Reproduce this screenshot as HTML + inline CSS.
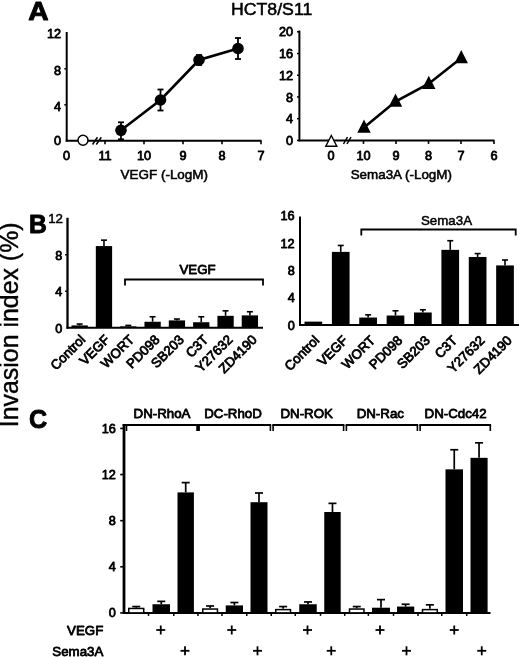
<!DOCTYPE html>
<html><head><meta charset="utf-8"><title>HCT8/S11 invasion index</title>
<style>
html,body{margin:0;padding:0;background:#fff;}
svg{display:block;font-family:'Liberation Sans', sans-serif;fill:#000;}
</style></head>
<body>
<svg width="520" height="657" viewBox="0 0 520 657">
<rect x="0" y="0" width="520" height="657" fill="#fff" stroke="none"/>
<text transform="translate(28.3,20.1) scale(1.07,1)" font-size="26.4" font-weight="bold" stroke="#000" stroke-width="0.9" stroke-linejoin="round">A</text>
<text transform="translate(29.1,233.1) scale(0.94,1)" font-size="26.2" font-weight="bold" stroke="#000" stroke-width="0.9" stroke-linejoin="round">B</text>
<text transform=" translate(28.9,427.9) scale(0.96,1)" font-size="26.2" font-weight="bold" stroke="#000" stroke-width="0.9" stroke-linejoin="round">C</text>
<text x="231" y="14.6" font-size="16.8" textLength="81.3" lengthAdjust="spacingAndGlyphs" stroke="#000" stroke-width="0.5">HCT8/S11</text>
<text transform="translate(18.0,427.2) rotate(-90)" font-size="24.9" stroke="#000" stroke-width="0.4">Invasion index (%)</text>
<line x1="66.7" y1="32" x2="66.7" y2="141.5" stroke="#000" stroke-width="2" />
<line x1="65.7" y1="140.8" x2="261.5" y2="140.8" stroke="#000" stroke-width="2" />
<text x="61" y="145.3" font-size="12.7" text-anchor="end" font-weight="normal" stroke="#000" stroke-width="0.8" stroke-linejoin="round" >0</text>
<line x1="64.3" y1="104.8" x2="66.7" y2="104.8" stroke="#000" stroke-width="1.5" />
<text x="61" y="110.7" font-size="12.7" text-anchor="end" font-weight="normal" stroke="#000" stroke-width="0.8" stroke-linejoin="round" >4</text>
<line x1="64.3" y1="68.8" x2="66.7" y2="68.8" stroke="#000" stroke-width="1.5" />
<text x="61" y="75.2" font-size="12.7" text-anchor="end" font-weight="normal" stroke="#000" stroke-width="0.8" stroke-linejoin="round" >8</text>
<text x="61" y="38.0" font-size="12.7" text-anchor="end" font-weight="normal" stroke="#000" stroke-width="0.8" stroke-linejoin="round" >12</text>
<text x="66.5" y="160.3" font-size="12.7" text-anchor="middle" font-weight="normal" stroke="#000" stroke-width="0.8" stroke-linejoin="round" >0</text>
<line x1="105" y1="140.8" x2="105" y2="144.3" stroke="#000" stroke-width="1.6" />
<text x="105" y="160.3" font-size="12.7" text-anchor="middle" font-weight="normal" stroke="#000" stroke-width="0.8" stroke-linejoin="round" >11</text>
<line x1="144" y1="140.8" x2="144" y2="144.3" stroke="#000" stroke-width="1.6" />
<text x="144" y="160.3" font-size="12.7" text-anchor="middle" font-weight="normal" stroke="#000" stroke-width="0.8" stroke-linejoin="round" >10</text>
<line x1="183" y1="140.8" x2="183" y2="144.3" stroke="#000" stroke-width="1.6" />
<text x="183" y="160.3" font-size="12.7" text-anchor="middle" font-weight="normal" stroke="#000" stroke-width="0.8" stroke-linejoin="round" >9</text>
<line x1="222" y1="140.8" x2="222" y2="144.3" stroke="#000" stroke-width="1.6" />
<text x="222" y="160.3" font-size="12.7" text-anchor="middle" font-weight="normal" stroke="#000" stroke-width="0.8" stroke-linejoin="round" >8</text>
<line x1="261" y1="140.8" x2="261" y2="144.3" stroke="#000" stroke-width="1.6" />
<text x="261" y="160.3" font-size="12.7" text-anchor="middle" font-weight="normal" stroke="#000" stroke-width="0.8" stroke-linejoin="round" >7</text>
<text x="120.6" y="179.3" font-size="13.4" textLength="87.4" lengthAdjust="spacingAndGlyphs" stroke="#000" stroke-width="0.55">VEGF (-LogM)</text>
<line x1="92.5" y1="144.5" x2="97.5" y2="137.3" stroke="#000" stroke-width="1.5" />
<line x1="96.3" y1="144.5" x2="101.3" y2="137.3" stroke="#000" stroke-width="1.5" />
<line x1="121" y1="130.3" x2="121" y2="122.3" stroke="#000" stroke-width="1.8" />
<line x1="118.0" y1="122.3" x2="124.0" y2="122.3" stroke="#000" stroke-width="1.8" />
<line x1="121" y1="130.3" x2="121" y2="139.3" stroke="#000" stroke-width="1.8" />
<line x1="118.0" y1="139.3" x2="124.0" y2="139.3" stroke="#000" stroke-width="1.8" />
<line x1="160.5" y1="100" x2="160.5" y2="89.5" stroke="#000" stroke-width="1.8" />
<line x1="157.5" y1="89.5" x2="163.5" y2="89.5" stroke="#000" stroke-width="1.8" />
<line x1="160.5" y1="100" x2="160.5" y2="110.5" stroke="#000" stroke-width="1.8" />
<line x1="157.5" y1="110.5" x2="163.5" y2="110.5" stroke="#000" stroke-width="1.8" />
<line x1="199" y1="60" x2="199" y2="55" stroke="#000" stroke-width="1.8" />
<line x1="196.0" y1="55" x2="202.0" y2="55" stroke="#000" stroke-width="1.8" />
<line x1="199" y1="60" x2="199" y2="65" stroke="#000" stroke-width="1.8" />
<line x1="196.0" y1="65" x2="202.0" y2="65" stroke="#000" stroke-width="1.8" />
<line x1="238" y1="48.5" x2="238" y2="38.0" stroke="#000" stroke-width="1.8" />
<line x1="235.0" y1="38.0" x2="241.0" y2="38.0" stroke="#000" stroke-width="1.8" />
<line x1="238" y1="48.5" x2="238" y2="59.0" stroke="#000" stroke-width="1.8" />
<line x1="235.0" y1="59.0" x2="241.0" y2="59.0" stroke="#000" stroke-width="1.8" />
<polyline fill="none" stroke="#000" stroke-width="2.6" points="121,130.3 160.5,100 199,60 238,48.5"/>
<circle cx="121" cy="130.3" r="5.8" fill="#000"/>
<circle cx="160.5" cy="100" r="5.8" fill="#000"/>
<circle cx="199" cy="60" r="5.8" fill="#000"/>
<circle cx="238" cy="48.5" r="5.8" fill="#000"/>
<circle cx="83" cy="140.3" r="5" fill="#fff" stroke="#000" stroke-width="1.5"/>
<line x1="299.4" y1="30.5" x2="299.4" y2="141.3" stroke="#000" stroke-width="2" />
<line x1="298.4" y1="140.4" x2="494.5" y2="140.4" stroke="#000" stroke-width="2" />
<line x1="297.0" y1="140.4" x2="299.4" y2="140.4" stroke="#000" stroke-width="1.5" />
<text x="293.0" y="145.0" font-size="12.7" text-anchor="end" font-weight="normal" stroke="#000" stroke-width="0.8" stroke-linejoin="round" >0</text>
<line x1="297.0" y1="118.68" x2="299.4" y2="118.68" stroke="#000" stroke-width="1.5" />
<text x="293.0" y="123.28" font-size="12.7" text-anchor="end" font-weight="normal" stroke="#000" stroke-width="0.8" stroke-linejoin="round" >4</text>
<line x1="297.0" y1="96.96" x2="299.4" y2="96.96" stroke="#000" stroke-width="1.5" />
<text x="293.0" y="101.56" font-size="12.7" text-anchor="end" font-weight="normal" stroke="#000" stroke-width="0.8" stroke-linejoin="round" >8</text>
<line x1="297.0" y1="75.24" x2="299.4" y2="75.24" stroke="#000" stroke-width="1.5" />
<text x="293.0" y="79.84" font-size="12.7" text-anchor="end" font-weight="normal" stroke="#000" stroke-width="0.8" stroke-linejoin="round" >12</text>
<line x1="297.0" y1="53.52" x2="299.4" y2="53.52" stroke="#000" stroke-width="1.5" />
<text x="293.0" y="58.12" font-size="12.7" text-anchor="end" font-weight="normal" stroke="#000" stroke-width="0.8" stroke-linejoin="round" >16</text>
<line x1="297.0" y1="31.8" x2="299.4" y2="31.8" stroke="#000" stroke-width="1.5" />
<text x="293.0" y="36.4" font-size="12.7" text-anchor="end" font-weight="normal" stroke="#000" stroke-width="0.8" stroke-linejoin="round" >20</text>
<text x="331" y="160.3" font-size="12.7" text-anchor="middle" font-weight="normal" stroke="#000" stroke-width="0.8" stroke-linejoin="round" >0</text>
<line x1="363.5" y1="140.4" x2="363.5" y2="143.9" stroke="#000" stroke-width="1.6" />
<text x="363.5" y="160.3" font-size="12.7" text-anchor="middle" font-weight="normal" stroke="#000" stroke-width="0.8" stroke-linejoin="round" >10</text>
<line x1="396" y1="140.4" x2="396" y2="143.9" stroke="#000" stroke-width="1.6" />
<text x="396" y="160.3" font-size="12.7" text-anchor="middle" font-weight="normal" stroke="#000" stroke-width="0.8" stroke-linejoin="round" >9</text>
<line x1="428.5" y1="140.4" x2="428.5" y2="143.9" stroke="#000" stroke-width="1.6" />
<text x="428.5" y="160.3" font-size="12.7" text-anchor="middle" font-weight="normal" stroke="#000" stroke-width="0.8" stroke-linejoin="round" >8</text>
<line x1="461" y1="140.4" x2="461" y2="143.9" stroke="#000" stroke-width="1.6" />
<text x="461" y="160.3" font-size="12.7" text-anchor="middle" font-weight="normal" stroke="#000" stroke-width="0.8" stroke-linejoin="round" >7</text>
<line x1="494" y1="140.4" x2="494" y2="143.9" stroke="#000" stroke-width="1.6" />
<text x="494" y="160.3" font-size="12.7" text-anchor="middle" font-weight="normal" stroke="#000" stroke-width="0.8" stroke-linejoin="round" >6</text>
<text x="350.7" y="179.3" font-size="13.4" textLength="101.2" lengthAdjust="spacingAndGlyphs" stroke="#000" stroke-width="0.55">Sema3A (-LogM)</text>
<line x1="343.5" y1="144" x2="347.5" y2="137" stroke="#000" stroke-width="1.5" />
<line x1="347" y1="144" x2="351" y2="137" stroke="#000" stroke-width="1.5" />
<polyline fill="none" stroke="#000" stroke-width="2.6" points="364,127.5 395.5,101.5 428.75,83.75 461.25,58"/>
<polygon points="364,119.5 357.3,132.8 370.7,132.8" fill="#000"/>
<polygon points="395.5,93.5 388.8,106.8 402.2,106.8" fill="#000"/>
<polygon points="428.75,75.75 422.05,89.05 435.45,89.05" fill="#000"/>
<polygon points="461.25,50 454.55,63.3 467.95,63.3" fill="#000"/>
<polygon points="331.3,135.5 325.8,146.3 336.8,146.3" fill="#fff" stroke="#000" stroke-width="1.4"/>
<line x1="67.5" y1="217.8" x2="67.5" y2="328.7" stroke="#000" stroke-width="2.3" />
<line x1="66.5" y1="327.7" x2="263" y2="327.7" stroke="#000" stroke-width="2" />
<text x="62.2" y="332.55" font-size="12.7" text-anchor="end" font-weight="normal" stroke="#000" stroke-width="0.8" stroke-linejoin="round" >0</text>
<line x1="65.1" y1="291.22" x2="67.5" y2="291.22" stroke="#000" stroke-width="1.5" />
<text x="62.2" y="296.35" font-size="12.7" text-anchor="end" font-weight="normal" stroke="#000" stroke-width="0.8" stroke-linejoin="round" >4</text>
<line x1="65.1" y1="254.74" x2="67.5" y2="254.74" stroke="#000" stroke-width="1.5" />
<text x="62.2" y="260.15" font-size="12.7" text-anchor="end" font-weight="normal" stroke="#000" stroke-width="0.8" stroke-linejoin="round" >8</text>
<text x="63" y="223.2" font-size="13.3" text-anchor="end" stroke="#000" stroke-width="0.5">12</text>
<line x1="79.65" y1="325.42" x2="79.65" y2="324.05" stroke="#000" stroke-width="1.6" />
<line x1="76.65" y1="324.05" x2="82.65" y2="324.05" stroke="#000" stroke-width="1.6" />
<rect x="71.50" y="325.42" width="16.30" height="2.28" fill="#000"/>
<text transform="translate(86.2,340.5) rotate(-45)" font-size="13.3" text-anchor="end" stroke="#000" stroke-width="0.8">Control</text>
<line x1="103.97" y1="246.08" x2="103.97" y2="240.15" stroke="#000" stroke-width="1.6" />
<line x1="100.97" y1="240.15" x2="106.97" y2="240.15" stroke="#000" stroke-width="1.6" />
<rect x="95.82" y="246.08" width="16.30" height="81.62" fill="#000"/>
<text transform="translate(110.6,340.5) rotate(-45)" font-size="13.3" text-anchor="end" stroke="#000" stroke-width="0.8">VEGF</text>
<line x1="128.29" y1="326.33" x2="128.29" y2="325.42" stroke="#000" stroke-width="1.6" />
<line x1="125.29" y1="325.42" x2="131.29" y2="325.42" stroke="#000" stroke-width="1.6" />
<rect x="120.14" y="326.33" width="16.30" height="1.37" fill="#000"/>
<text transform="translate(134.9,340.5) rotate(-45)" font-size="13.3" text-anchor="end" stroke="#000" stroke-width="0.8">WORT</text>
<line x1="152.61" y1="321.77" x2="152.61" y2="316.76" stroke="#000" stroke-width="1.6" />
<line x1="149.61" y1="316.76" x2="155.61" y2="316.76" stroke="#000" stroke-width="1.6" />
<rect x="144.46" y="321.77" width="16.30" height="5.93" fill="#000"/>
<text transform="translate(160.4,340.5) rotate(-45)" font-size="13.3" text-anchor="end" stroke="#000" stroke-width="0.8">PD098</text>
<line x1="176.93" y1="320.4" x2="176.93" y2="319.04" stroke="#000" stroke-width="1.6" />
<line x1="173.93" y1="319.04" x2="179.93" y2="319.04" stroke="#000" stroke-width="1.6" />
<rect x="168.78" y="320.40" width="16.30" height="7.30" fill="#000"/>
<text transform="translate(184.7,340.5) rotate(-45)" font-size="13.3" text-anchor="end" stroke="#000" stroke-width="0.8">SB203</text>
<line x1="201.25" y1="322.23" x2="201.25" y2="316.76" stroke="#000" stroke-width="1.6" />
<line x1="198.25" y1="316.76" x2="204.25" y2="316.76" stroke="#000" stroke-width="1.6" />
<rect x="193.10" y="322.23" width="16.30" height="5.47" fill="#000"/>
<text transform="translate(209.1,340.5) rotate(-45)" font-size="13.3" text-anchor="end" stroke="#000" stroke-width="0.8">C3T</text>
<line x1="225.57" y1="315.84" x2="225.57" y2="310.83" stroke="#000" stroke-width="1.6" />
<line x1="222.57" y1="310.83" x2="228.57" y2="310.83" stroke="#000" stroke-width="1.6" />
<rect x="217.42" y="315.84" width="16.30" height="11.86" fill="#000"/>
<text transform="translate(233.4,340.5) rotate(-45)" font-size="13.3" text-anchor="end" stroke="#000" stroke-width="0.8">Y27632</text>
<line x1="249.89" y1="315.39" x2="249.89" y2="311.74" stroke="#000" stroke-width="1.6" />
<line x1="246.89" y1="311.74" x2="252.89" y2="311.74" stroke="#000" stroke-width="1.6" />
<rect x="241.74" y="315.39" width="16.30" height="12.31" fill="#000"/>
<text transform="translate(257.7,340.5) rotate(-45)" font-size="13.3" text-anchor="end" stroke="#000" stroke-width="0.8">ZD4190</text>
<polyline fill="none" stroke="#000" stroke-width="1.8" points="125,285.5 125,279.5 263,279.5 263,285.5"/>
<text x="197.5" y="273.7" font-size="13.3" text-anchor="middle" font-weight="normal" stroke="#000" stroke-width="0.8" stroke-linejoin="round" >VEGF</text>
<line x1="300" y1="216.5" x2="300" y2="326" stroke="#000" stroke-width="2" />
<line x1="299" y1="325" x2="519" y2="325" stroke="#000" stroke-width="2" />
<text x="294.7" y="329.85" font-size="12.7" text-anchor="end" font-weight="normal" stroke="#000" stroke-width="0.8" stroke-linejoin="round" >0</text>
<text x="294.7" y="302.49" font-size="12.7" text-anchor="end" font-weight="normal" stroke="#000" stroke-width="0.8" stroke-linejoin="round" >4</text>
<text x="294.7" y="275.13" font-size="12.7" text-anchor="end" font-weight="normal" stroke="#000" stroke-width="0.8" stroke-linejoin="round" >8</text>
<text x="294.7" y="247.77" font-size="12.7" text-anchor="end" font-weight="normal" stroke="#000" stroke-width="0.8" stroke-linejoin="round" >12</text>
<text x="294.7" y="220.41" font-size="12.7" text-anchor="end" font-weight="normal" stroke="#000" stroke-width="0.8" stroke-linejoin="round" >16</text>
<rect x="304.50" y="321.62" width="17.70" height="3.38" fill="#000"/>
<text transform="translate(320.2,341.2) rotate(-45)" font-size="13.3" text-anchor="end" stroke="#000" stroke-width="0.8">Control</text>
<line x1="340.73" y1="251.88" x2="340.73" y2="245.45" stroke="#000" stroke-width="1.6" />
<line x1="337.73" y1="245.45" x2="343.73" y2="245.45" stroke="#000" stroke-width="1.6" />
<rect x="331.88" y="251.88" width="17.70" height="73.12" fill="#000"/>
<text transform="translate(348.5,341.2) rotate(-45)" font-size="13.3" text-anchor="end" stroke="#000" stroke-width="0.8">VEGF</text>
<line x1="368.11" y1="317.55" x2="368.11" y2="314.85" stroke="#000" stroke-width="1.6" />
<line x1="365.11" y1="314.85" x2="371.11" y2="314.85" stroke="#000" stroke-width="1.6" />
<rect x="359.26" y="317.55" width="17.70" height="7.45" fill="#000"/>
<text transform="translate(375.9,341.2) rotate(-45)" font-size="13.3" text-anchor="end" stroke="#000" stroke-width="0.8">WORT</text>
<line x1="395.49" y1="315.52" x2="395.49" y2="310.78" stroke="#000" stroke-width="1.6" />
<line x1="392.49" y1="310.78" x2="398.49" y2="310.78" stroke="#000" stroke-width="1.6" />
<rect x="386.64" y="315.52" width="17.70" height="9.48" fill="#000"/>
<text transform="translate(403.3,341.2) rotate(-45)" font-size="13.3" text-anchor="end" stroke="#000" stroke-width="0.8">PD098</text>
<line x1="422.87" y1="312.48" x2="422.87" y2="309.77" stroke="#000" stroke-width="1.6" />
<line x1="419.87" y1="309.77" x2="425.87" y2="309.77" stroke="#000" stroke-width="1.6" />
<rect x="414.02" y="312.48" width="17.70" height="12.52" fill="#000"/>
<text transform="translate(430.7,341.2) rotate(-45)" font-size="13.3" text-anchor="end" stroke="#000" stroke-width="0.8">SB203</text>
<line x1="450.25" y1="249.85" x2="450.25" y2="240.71" stroke="#000" stroke-width="1.6" />
<line x1="447.25" y1="240.71" x2="453.25" y2="240.71" stroke="#000" stroke-width="1.6" />
<rect x="441.40" y="249.85" width="17.70" height="75.15" fill="#000"/>
<text transform="translate(458.1,341.2) rotate(-45)" font-size="13.3" text-anchor="end" stroke="#000" stroke-width="0.8">C3T</text>
<line x1="477.63" y1="256.96" x2="477.63" y2="253.58" stroke="#000" stroke-width="1.6" />
<line x1="474.63" y1="253.58" x2="480.63" y2="253.58" stroke="#000" stroke-width="1.6" />
<rect x="468.78" y="256.96" width="17.70" height="68.04" fill="#000"/>
<text transform="translate(485.4,341.2) rotate(-45)" font-size="13.3" text-anchor="end" stroke="#000" stroke-width="0.8">Y27632</text>
<line x1="505.01" y1="265.42" x2="505.01" y2="260.01" stroke="#000" stroke-width="1.6" />
<line x1="502.01" y1="260.01" x2="508.01" y2="260.01" stroke="#000" stroke-width="1.6" />
<rect x="496.16" y="265.42" width="17.70" height="59.58" fill="#000"/>
<text transform="translate(512.8,341.2) rotate(-45)" font-size="13.3" text-anchor="end" stroke="#000" stroke-width="0.8">ZD4190</text>
<polyline fill="none" stroke="#000" stroke-width="1.8" points="361.3,235.5 361.3,229.5 515.7,229.5 515.7,235.5"/>
<text x="446.5" y="224.5" font-size="13.3" text-anchor="middle" stroke="#000" stroke-width="0.5">Sema3A</text>
<line x1="124" y1="424.3" x2="124" y2="613.9" stroke="#000" stroke-width="2.8" />
<line x1="123" y1="612.9" x2="490.5" y2="612.9" stroke="#000" stroke-width="2" />
<line x1="120.2" y1="612.9" x2="124" y2="612.9" stroke="#000" stroke-width="1.6" />
<text x="115.8" y="617.1" font-size="12.7" text-anchor="end" font-weight="normal" stroke="#000" stroke-width="0.8" stroke-linejoin="round" >0</text>
<line x1="120.2" y1="566.78" x2="124" y2="566.78" stroke="#000" stroke-width="1.6" />
<text x="115.8" y="570.98" font-size="12.7" text-anchor="end" font-weight="normal" stroke="#000" stroke-width="0.8" stroke-linejoin="round" >4</text>
<line x1="120.2" y1="520.66" x2="124" y2="520.66" stroke="#000" stroke-width="1.6" />
<text x="115.8" y="524.86" font-size="12.7" text-anchor="end" font-weight="normal" stroke="#000" stroke-width="0.8" stroke-linejoin="round" >8</text>
<line x1="120.2" y1="474.54" x2="124" y2="474.54" stroke="#000" stroke-width="1.6" />
<text x="115.8" y="478.74" font-size="12.7" text-anchor="end" font-weight="normal" stroke="#000" stroke-width="0.8" stroke-linejoin="round" >12</text>
<line x1="120.2" y1="428.42" x2="124" y2="428.42" stroke="#000" stroke-width="1.6" />
<text x="115.8" y="432.62" font-size="12.7" text-anchor="end" font-weight="normal" stroke="#000" stroke-width="0.8" stroke-linejoin="round" >16</text>
<line x1="122.6" y1="425" x2="126.5" y2="425" stroke="#000" stroke-width="2.0" />
<line x1="125.7" y1="425" x2="198.1" y2="425" stroke="#000" stroke-width="2.0" />
<line x1="126.5" y1="425" x2="126.5" y2="431" stroke="#000" stroke-width="1.6" />
<line x1="197.3" y1="425" x2="197.3" y2="431" stroke="#000" stroke-width="1.6" />
<line x1="198.1" y1="425" x2="271.2" y2="425" stroke="#000" stroke-width="2.0" />
<line x1="198.9" y1="425" x2="198.9" y2="431" stroke="#000" stroke-width="1.6" />
<line x1="270.4" y1="425" x2="270.4" y2="431" stroke="#000" stroke-width="1.6" />
<line x1="272.3" y1="425" x2="344.4" y2="425" stroke="#000" stroke-width="2.0" />
<line x1="273.1" y1="425" x2="273.1" y2="431" stroke="#000" stroke-width="1.6" />
<line x1="343.6" y1="425" x2="343.6" y2="431" stroke="#000" stroke-width="1.6" />
<line x1="345.6" y1="425" x2="418.2" y2="425" stroke="#000" stroke-width="2.0" />
<line x1="346.4" y1="425" x2="346.4" y2="431" stroke="#000" stroke-width="1.6" />
<line x1="417.4" y1="425" x2="417.4" y2="431" stroke="#000" stroke-width="1.6" />
<line x1="419.3" y1="425" x2="491.1" y2="425" stroke="#000" stroke-width="2.0" />
<line x1="420.1" y1="425" x2="420.1" y2="431" stroke="#000" stroke-width="1.6" />
<line x1="490.3" y1="425" x2="490.3" y2="431" stroke="#000" stroke-width="1.6" />
<line x1="198.1" y1="424.2" x2="198.1" y2="431" stroke="#000" stroke-width="3.2" />
<text x="162" y="418.1" font-size="13.3" text-anchor="middle" font-weight="normal" stroke="#000" stroke-width="0.8" stroke-linejoin="round" >DN-RhoA</text>
<text x="233" y="418.1" font-size="13.3" text-anchor="middle" font-weight="normal" stroke="#000" stroke-width="0.8" stroke-linejoin="round" >DC-RhoD</text>
<text x="306.7" y="418.1" font-size="13.3" text-anchor="middle" font-weight="normal" stroke="#000" stroke-width="0.8" stroke-linejoin="round" >DN-ROK</text>
<text x="380.3" y="418.1" font-size="13.3" text-anchor="middle" font-weight="normal" stroke="#000" stroke-width="0.8" stroke-linejoin="round" >DN-Rac</text>
<text x="455.6" y="418.1" font-size="13.3" text-anchor="middle" font-weight="normal" stroke="#000" stroke-width="0.8" stroke-linejoin="round" >DN-Cdc42</text>
<line x1="136.25" y1="607.71" x2="136.25" y2="606.56" stroke="#000" stroke-width="1.7" />
<line x1="132.25" y1="606.56" x2="140.25" y2="606.56" stroke="#000" stroke-width="1.7" />
<rect x="128.75" y="608.46" width="15.00" height="4.44" fill="#fff" stroke="#000" stroke-width="1.5"/>
<line x1="148.5" y1="612.9" x2="148.5" y2="615.9" stroke="#000" stroke-width="1.5" />
<line x1="161.25" y1="604.25" x2="161.25" y2="601.37" stroke="#000" stroke-width="1.7" />
<line x1="157.25" y1="601.37" x2="165.25" y2="601.37" stroke="#000" stroke-width="1.7" />
<rect x="152.50" y="604.25" width="17.50" height="8.65" fill="#000"/>
<line x1="173.75" y1="612.9" x2="173.75" y2="615.9" stroke="#000" stroke-width="1.5" />
<line x1="185.7" y1="492.41" x2="185.7" y2="482.61" stroke="#000" stroke-width="1.7" />
<line x1="181.7" y1="482.61" x2="189.7" y2="482.61" stroke="#000" stroke-width="1.7" />
<rect x="177.50" y="492.41" width="16.40" height="120.49" fill="#000"/>
<line x1="197.95" y1="612.9" x2="197.95" y2="615.9" stroke="#000" stroke-width="1.5" />
<line x1="210.1" y1="608.29" x2="210.1" y2="605.98" stroke="#000" stroke-width="1.7" />
<line x1="206.1" y1="605.98" x2="214.1" y2="605.98" stroke="#000" stroke-width="1.7" />
<rect x="202.75" y="609.04" width="14.70" height="3.86" fill="#fff" stroke="#000" stroke-width="1.5"/>
<line x1="221.97" y1="612.9" x2="221.97" y2="615.9" stroke="#000" stroke-width="1.5" />
<line x1="234.38" y1="605.41" x2="234.38" y2="602.52" stroke="#000" stroke-width="1.7" />
<line x1="230.38" y1="602.52" x2="238.38" y2="602.52" stroke="#000" stroke-width="1.7" />
<rect x="225.75" y="605.41" width="17.25" height="7.49" fill="#000"/>
<line x1="246.75" y1="612.9" x2="246.75" y2="615.9" stroke="#000" stroke-width="1.5" />
<line x1="259.0" y1="502.21" x2="259.0" y2="492.99" stroke="#000" stroke-width="1.7" />
<line x1="255.0" y1="492.99" x2="263.0" y2="492.99" stroke="#000" stroke-width="1.7" />
<rect x="250.50" y="502.21" width="17.00" height="110.69" fill="#000"/>
<line x1="271.25" y1="612.9" x2="271.25" y2="615.9" stroke="#000" stroke-width="1.5" />
<line x1="283.12" y1="608.86" x2="283.12" y2="606.56" stroke="#000" stroke-width="1.7" />
<line x1="279.12" y1="606.56" x2="287.12" y2="606.56" stroke="#000" stroke-width="1.7" />
<rect x="275.75" y="609.61" width="14.75" height="3.29" fill="#fff" stroke="#000" stroke-width="1.5"/>
<line x1="295.25" y1="612.9" x2="295.25" y2="615.9" stroke="#000" stroke-width="1.5" />
<line x1="308.0" y1="604.25" x2="308.0" y2="601.95" stroke="#000" stroke-width="1.7" />
<line x1="304.0" y1="601.95" x2="312.0" y2="601.95" stroke="#000" stroke-width="1.7" />
<rect x="299.25" y="604.25" width="17.50" height="8.65" fill="#000"/>
<line x1="320.5" y1="612.9" x2="320.5" y2="615.9" stroke="#000" stroke-width="1.5" />
<line x1="332.48" y1="512.01" x2="332.48" y2="503.37" stroke="#000" stroke-width="1.7" />
<line x1="328.48" y1="503.37" x2="336.48" y2="503.37" stroke="#000" stroke-width="1.7" />
<rect x="324.25" y="512.01" width="16.45" height="100.89" fill="#000"/>
<line x1="344.73" y1="612.9" x2="344.73" y2="615.9" stroke="#000" stroke-width="1.5" />
<line x1="356.73" y1="608.29" x2="356.73" y2="606.56" stroke="#000" stroke-width="1.7" />
<line x1="352.73" y1="606.56" x2="360.73" y2="606.56" stroke="#000" stroke-width="1.7" />
<rect x="349.50" y="609.04" width="14.45" height="3.86" fill="#fff" stroke="#000" stroke-width="1.5"/>
<line x1="368.35" y1="612.9" x2="368.35" y2="615.9" stroke="#000" stroke-width="1.5" />
<line x1="381.0" y1="607.71" x2="381.0" y2="599.64" stroke="#000" stroke-width="1.7" />
<line x1="377.0" y1="599.64" x2="385.0" y2="599.64" stroke="#000" stroke-width="1.7" />
<rect x="372.00" y="607.71" width="18.00" height="5.19" fill="#000"/>
<line x1="393.5" y1="612.9" x2="393.5" y2="615.9" stroke="#000" stroke-width="1.5" />
<line x1="405.62" y1="606.56" x2="405.62" y2="604.25" stroke="#000" stroke-width="1.7" />
<line x1="401.62" y1="604.25" x2="409.62" y2="604.25" stroke="#000" stroke-width="1.7" />
<rect x="397.00" y="606.56" width="17.25" height="6.34" fill="#000"/>
<line x1="418.0" y1="612.9" x2="418.0" y2="615.9" stroke="#000" stroke-width="1.5" />
<line x1="429.88" y1="608.86" x2="429.88" y2="604.83" stroke="#000" stroke-width="1.7" />
<line x1="425.88" y1="604.83" x2="433.88" y2="604.83" stroke="#000" stroke-width="1.7" />
<rect x="422.50" y="609.61" width="14.75" height="3.29" fill="#fff" stroke="#000" stroke-width="1.5"/>
<line x1="441.75" y1="612.9" x2="441.75" y2="615.9" stroke="#000" stroke-width="1.5" />
<line x1="454.25" y1="469.35" x2="454.25" y2="449.75" stroke="#000" stroke-width="1.7" />
<line x1="450.25" y1="449.75" x2="458.25" y2="449.75" stroke="#000" stroke-width="1.7" />
<rect x="445.50" y="469.35" width="17.50" height="143.55" fill="#000"/>
<line x1="466.75" y1="612.9" x2="466.75" y2="615.9" stroke="#000" stroke-width="1.5" />
<line x1="479.05" y1="457.82" x2="479.05" y2="442.83" stroke="#000" stroke-width="1.7" />
<line x1="475.05" y1="442.83" x2="483.05" y2="442.83" stroke="#000" stroke-width="1.7" />
<rect x="470.50" y="457.82" width="17.10" height="155.08" fill="#000"/>
<text x="103.3" y="634.7" font-size="13.3" text-anchor="end" font-weight="normal" stroke="#000" stroke-width="0.8" stroke-linejoin="round" >VEGF</text>
<text x="103.3" y="656.3" font-size="13.3" text-anchor="end" font-weight="normal" stroke="#000" stroke-width="0.8" stroke-linejoin="round" >Sema3A</text>
<line x1="156.25" y1="630" x2="165.25" y2="630" stroke="#000" stroke-width="1.8" />
<line x1="160.75" y1="625.5" x2="160.75" y2="634.5" stroke="#000" stroke-width="1.8" />
<line x1="227.25" y1="630" x2="236.25" y2="630" stroke="#000" stroke-width="1.8" />
<line x1="231.75" y1="625.5" x2="231.75" y2="634.5" stroke="#000" stroke-width="1.8" />
<line x1="303.0" y1="630" x2="312.0" y2="630" stroke="#000" stroke-width="1.8" />
<line x1="307.5" y1="625.5" x2="307.5" y2="634.5" stroke="#000" stroke-width="1.8" />
<line x1="375.5" y1="630" x2="384.5" y2="630" stroke="#000" stroke-width="1.8" />
<line x1="380" y1="625.5" x2="380" y2="634.5" stroke="#000" stroke-width="1.8" />
<line x1="449.75" y1="630" x2="458.75" y2="630" stroke="#000" stroke-width="1.8" />
<line x1="454.25" y1="625.5" x2="454.25" y2="634.5" stroke="#000" stroke-width="1.8" />
<line x1="180.5" y1="650.8" x2="189.5" y2="650.8" stroke="#000" stroke-width="1.8" />
<line x1="185" y1="646.3" x2="185" y2="655.3" stroke="#000" stroke-width="1.8" />
<line x1="253.0" y1="650.8" x2="262.0" y2="650.8" stroke="#000" stroke-width="1.8" />
<line x1="257.5" y1="646.3" x2="257.5" y2="655.3" stroke="#000" stroke-width="1.8" />
<line x1="326.75" y1="650.8" x2="335.75" y2="650.8" stroke="#000" stroke-width="1.8" />
<line x1="331.25" y1="646.3" x2="331.25" y2="655.3" stroke="#000" stroke-width="1.8" />
<line x1="402.0" y1="650.8" x2="411.0" y2="650.8" stroke="#000" stroke-width="1.8" />
<line x1="406.5" y1="646.3" x2="406.5" y2="655.3" stroke="#000" stroke-width="1.8" />
<line x1="477.25" y1="650.8" x2="486.25" y2="650.8" stroke="#000" stroke-width="1.8" />
<line x1="481.75" y1="646.3" x2="481.75" y2="655.3" stroke="#000" stroke-width="1.8" />
</svg>
</body></html>
